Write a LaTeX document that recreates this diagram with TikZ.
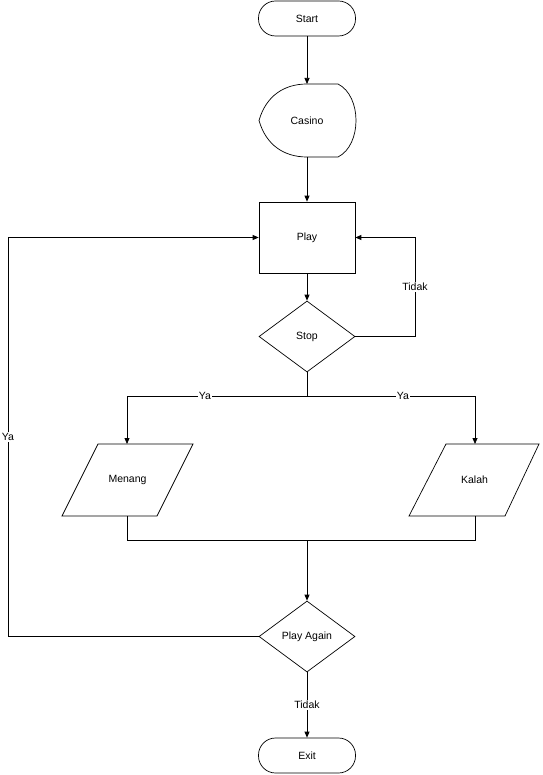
\documentclass[tikz,border=0pt]{standalone}
\usepackage{fontspec}
\setmainfont{Liberation Sans}
\usetikzlibrary{shapes.geometric,arrows.meta}
\begin{document}
\begin{tikzpicture}[x=1pt,y=-1pt,
  every node/.style={font=\fontsize{10.5}{12}\selectfont},
  outline/.style={draw, line width=0.7pt},
  term/.style={outline, rectangle, rounded corners=17pt, minimum width=97pt, minimum height=35pt, inner sep=0pt},
  procbox/.style={outline, rectangle, minimum width=96pt, minimum height=71pt, inner sep=0pt},
  decide/.style={outline, diamond, minimum width=96pt, minimum height=71pt, inner sep=0pt, aspect=1.35},
  conn/.style={line width=0.75pt},
  arr/.style={conn, -{Triangle[length=6pt,width=5pt]}},
  lbl/.style={fill=white, inner sep=1pt}
]
\useasboundingbox (0,0) rectangle (542,775);

% nodes
\node[term] (start) at (307,18.5) {Start};
\node (casino) at (307,120.5) {Casino};
\coordinate (casinotop) at (307,84);
\coordinate (casinobot) at (307,157);
\draw[outline] (259,120.5) .. controls (266,96) and (284,84) .. (307,84) -- (338,84)
  .. controls (362,96) and (362,145) .. (338,157) -- (307,157)
  .. controls (284,157) and (266,145) .. (259,120.5);
\node[procbox] (play) at (307,237.5) {Play};
\node[decide] (stop) at (307,336.5) {Stop};

\node (menang) at (127.5,480) {Menang};
\coordinate (menangtop) at (127,444);
\coordinate (menangbot) at (127,516);
\draw[outline] (98,444) -- (193,444) -- (157,516) -- (62,516) -- cycle;

\node (kalah) at (474.5,480) {Kalah};
\coordinate (kalahtop) at (475,444);
\coordinate (kalahbot) at (475,516);
\draw[outline] (446,444) -- (539,444) -- (505,516) -- (409,516) -- cycle;

\node[decide] (again) at (307,636.5) {Play Again};
\node[term] (exit) at (307,755.5) {Exit};

% helper coordinates
\coordinate (tidakR) at (415,336.5);
\coordinate (tidakRup) at (415,237.5);
\coordinate (split) at (307,396);
\coordinate (splitL) at (127,396);
\coordinate (splitR) at (475,396);
\coordinate (joinL) at (127,540);
\coordinate (joinR) at (475,540);
\coordinate (join) at (307,540);
\coordinate (loopB) at (8,636.5);
\coordinate (loopT) at (8,237.5);

% connectors
\draw[arr] (start) -- (casinotop);
\draw[arr] (casinobot) -- (play);
\draw[arr] (play) -- (stop);
\draw[arr] (stop.east) -- (tidakR) -- node[lbl, pos=0.5] {Tidak} (tidakRup) -- (play.east);
\draw[conn] (stop.south) -- (split);
\draw[arr] (split) -- node[lbl, pos=0.567] {Ya} (splitL) -- (menangtop);
\draw[arr] (split) -- node[lbl, pos=0.571] {Ya} (splitR) -- (kalahtop);
\draw[conn] (menangbot) -- (joinL) -- (joinR) -- (kalahbot);
\draw[arr] (join) -- (again);
\draw[arr] (again) -- node[lbl, pos=0.5] {Tidak} (exit);
\draw[arr] (again.west) -- (loopB) -- node[lbl, pos=0.5] {Ya} (loopT) -- (play.west);
\end{tikzpicture}
\end{document}
